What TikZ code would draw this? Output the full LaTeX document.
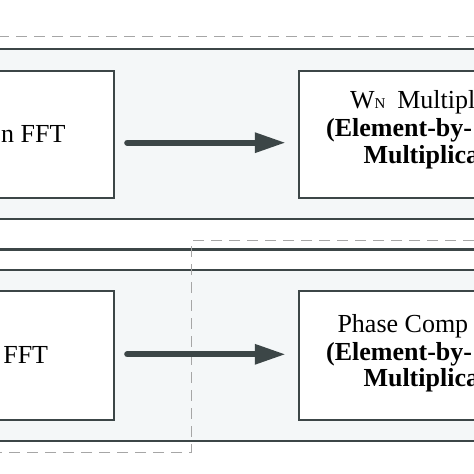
\documentclass[tikz,border=0pt]{standalone}
\usepackage{fontspec}
\setmainfont{Liberation Serif}
\usetikzlibrary{arrows.meta}
\definecolor{edge}{HTML}{3C4647}
\definecolor{panel}{HTML}{F4F7F8}
\definecolor{dash}{HTML}{A6A6A6}
\tikzset{
  outerbox/.style={draw=edge, line width=2.2pt, fill=panel, inner sep=0pt},
  stagebox/.style={draw=edge, line width=2.4pt, fill=white, inner sep=0pt},
  txt/.style={inner sep=0pt, font=\fontsize{26}{27.5}\selectfont, text=black},
  btxt/.style={txt, font=\fontsize{26}{27.5}\selectfont\bfseries},
  flow/.style={draw=edge, line width=6pt, line cap=round,
    -{Triangle[length=31pt,width=19pt]}, shorten <=12pt, shorten >=12pt},
  group/.style={draw=dash, line width=1.3pt, dash pattern=on 11pt off 7pt},
  rule/.style={draw=edge, line width=2.2pt}
}
\begin{document}
\begin{tikzpicture}[x=1pt,y=-1pt]
\useasboundingbox (0,0) rectangle (474,474);
\fill[white] (0,0) rectangle (474,474);
\clip (0,0) rectangle (474,474);
% panels
\node[outerbox, minimum width=540pt, minimum height=170pt] (p1) at (237,134.3) {};
\node[outerbox, minimum width=540pt, minimum height=170.7pt] (p2) at (237,355.35) {};
\coordinate (rl) at (-20,249.5);
\coordinate (rr) at (494,249.5);
\draw[rule] (rl) -- (rr);
% dashed group outline
\coordinate (g1) at (-20,36.7);
\coordinate (g2) at (494,36.7);
\coordinate (g3) at (494,240.7);
\coordinate (g4) at (191.7,240.7);
\coordinate (g5) at (191.7,452.7);
\coordinate (g6) at (-20,452.7);
\draw[group] (g1) -- (g2) -- (g3) -- (g4) -- (g5) -- (g6);
% stage boxes
\node[stagebox, minimum width=154pt, minimum height=127.3pt] (a1) at (37,134.35) {};
\node[stagebox, minimum width=221pt, minimum height=127.3pt] (b1) at (409.5,134.35) {};
\node[stagebox, minimum width=154pt, minimum height=129pt] (a2) at (37,355.5) {};
\node[stagebox, minimum width=221pt, minimum height=129pt] (b2) at (409.5,355.5) {};
% texts
\node[txt, anchor=base east] (ta1) at (65.7,142.3) {n FFT};
\node[txt, anchor=base east] (ta2) at (48.3,363.3) {FFT};
\node[txt, anchor=base west] (tb1a) at (350,108.3) {W{\fontsize{15}{15}\selectfont N}\hspace{11.7pt}Multipl};
\node[btxt, anchor=base west] (tb1b) at (326,136.7) {(Element-by-};
\node[btxt, anchor=base west] (tb1c) at (363.3,163.3) {Multiplica};
\node[txt, anchor=base west] (tb2a) at (337.3,332.3) {Phase Comp};
\node[btxt, anchor=base west] (tb2b) at (326,360) {(Element-by-};
\node[btxt, anchor=base west] (tb2c) at (363.3,386.7) {Multiplica};
% arrows
\draw[flow] ([yshift=-8.35pt]a1.east) -- ([yshift=-8.35pt]b1.west);
\draw[flow] ([yshift=1.2pt]a2.east) -- ([yshift=1.2pt]b2.west);
\end{tikzpicture}
\end{document}
